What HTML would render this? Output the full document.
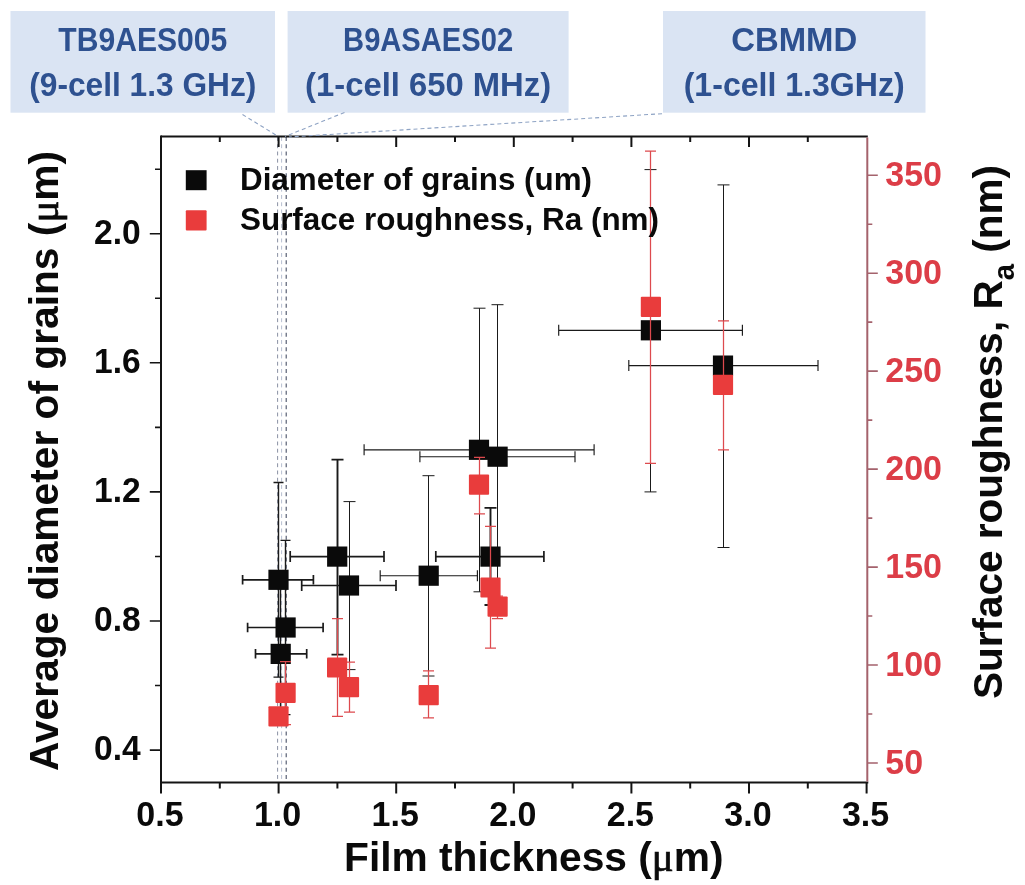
<!DOCTYPE html>
<html lang="en"><head><meta charset="utf-8"><title>Film thickness chart</title>
<style>html,body{margin:0;padding:0;background:#fff}svg{display:block}text{font-family:"Liberation Sans",sans-serif;font-weight:bold}.hd{fill:#2e5190;font-size:32.5px;text-anchor:middle}.tk{font-size:35.2px;fill:#0a0a0a}.rt{font-size:35.2px;fill:#dc3d47}.ti{font-size:40px;fill:#0a0a0a}.lg{font-size:31px;fill:#0a0a0a}.mu{font-weight:normal;font-family:"Liberation Serif",serif;stroke:#0a0a0a;stroke-width:0.7px}</style></head><body>
<svg width="1025" height="885" viewBox="0 0 1025 885">
<rect width="1025" height="885" fill="#fff"/>
<rect x="10.5" y="11" width="264.5" height="101.7" fill="#dae4f3"/>
<text class="hd" x="142.8" y="51.0" textLength="169" lengthAdjust="spacingAndGlyphs">TB9AES005</text>
<text class="hd" x="142.8" y="96.0" textLength="227" lengthAdjust="spacingAndGlyphs">(9-cell 1.3 GHz)</text>
<rect x="287.6" y="11" width="281.0" height="101.7" fill="#dae4f3"/>
<text class="hd" x="428.1" y="51.0" textLength="170" lengthAdjust="spacingAndGlyphs">B9ASAES02</text>
<text class="hd" x="428.1" y="96.0" textLength="246" lengthAdjust="spacingAndGlyphs">(1-cell 650 MHz)</text>
<rect x="663.0" y="11" width="262.5" height="101.7" fill="#dae4f3"/>
<text class="hd" x="794.2" y="51.0" textLength="126" lengthAdjust="spacingAndGlyphs">CBMMD</text>
<text class="hd" x="794.2" y="96.0" textLength="221" lengthAdjust="spacingAndGlyphs">(1-cell 1.3GHz)</text>
<g stroke-dasharray="3.9 3.35" fill="none">
<path d="M277.6 137V782" stroke="#7d8598" stroke-width="0.9"/>
<path d="M281.6 137V782" stroke="#a4afc4" stroke-width="0.8"/>
<path d="M286.2 137V782" stroke="#4a5268" stroke-width="1.1"/>
</g>
<g stroke="#1a1a1a" stroke-width="1.3" fill="none">
<path stroke-width="1.7" d="M242.6 579.8H313.4M242.6 575.0v9.5M313.4 575.0v9.5"/>
<path stroke-width="1.4" d="M278.5 482.5V677.1M273.5 482.5h10M273.5 677.1h10"/>
<path stroke-width="1.7" d="M247.6 627.5H323.1M247.6 622.8v9.5M323.1 622.8v9.5"/>
<path stroke-width="1.4" d="M285.5 540.4V714.6M280.5 540.4h10M280.5 714.6h10"/>
<path stroke-width="1.7" d="M255.5 653.9H306.7M255.5 649.1v9.5M306.7 649.1v9.5"/>
<path stroke-width="1.4" d="M280.5 584.0V723.0M275.5 584.0h10M275.5 723.0h10"/>
<path stroke-width="1.7" d="M290.2 556.6H384.0M290.2 551.1v11M384.0 551.1v11"/>
<path stroke-width="1.9" d="M337.5 459.6V654.6M331.5 459.6h12M331.5 654.6h12"/>
<path stroke-width="1.7" d="M301.7 585.5H396.0M301.7 580.0v11M396.0 580.0v11"/>
<path stroke-width="1.0" d="M349.5 501.6V669.6M343.5 501.6h12M343.5 669.6h12"/>
<path stroke-width="1.15" d="M380.2 575.7H477.4M380.2 570.2v11M477.4 570.2v11"/>
<path stroke-width="1.0" d="M428.5 475.7V676.0M422.5 475.7h12M422.5 676.0h12"/>
<path stroke-width="1.7" d="M435.8 556.6H543.9M435.8 551.1v11M543.9 551.1v11"/>
<path stroke-width="1.9" d="M490.5 507.9V605.0M484.5 507.9h12M484.5 605.0h12"/>
<path stroke-width="1.15" d="M364.1 449.8H594.1M364.1 444.3v11M594.1 444.3v11"/>
<path stroke-width="1.0" d="M479.5 308.2V591.8M473.5 308.2h12M473.5 591.8h12"/>
<path stroke-width="1.15" d="M419.9 456.7H575.0M419.9 451.2v11M575.0 451.2v11"/>
<path stroke-width="1.0" d="M497.5 304.7V608.7M491.5 304.7h12M491.5 608.7h12"/>
<path stroke-width="1.15" d="M558.7 330.3H742.4M558.7 324.8v11M742.4 324.8v11"/>
<path stroke-width="1.0" d="M650.5 169.6V491.9M644.5 169.6h12M644.5 491.9h12"/>
<path stroke-width="1.15" d="M628.8 365.6H818.0M628.8 360.1v11M818.0 360.1v11"/>
<path stroke-width="1.0" d="M723.5 184.9V547.5M717.5 184.9h12M717.5 547.5h12"/>
</g>
<g fill="#0a0a0a">
<rect x="268.4" y="569.7" width="20.2" height="20.2"/>
<rect x="275.5" y="617.4" width="20.2" height="20.2"/>
<rect x="270.6" y="643.8" width="20.2" height="20.2"/>
<rect x="327.1" y="546.5" width="20.2" height="20.2"/>
<rect x="338.9" y="575.4" width="20.2" height="20.2"/>
<rect x="418.6" y="565.6" width="20.2" height="20.2"/>
<rect x="480.4" y="546.5" width="20.2" height="20.2"/>
<rect x="468.9" y="439.7" width="20.2" height="20.2"/>
<rect x="487.5" y="446.6" width="20.2" height="20.2"/>
<rect x="640.8" y="320.2" width="20.2" height="20.2"/>
<rect x="712.9" y="355.5" width="20.2" height="20.2"/>
</g>
<g stroke="#dd4a4e" stroke-width="1.25" fill="none">
<path d="M278.5 708.0V725.0M273.0 708.0h11M273.0 725.0h11"/>
<path d="M285.5 661.7V724.6M280.0 661.7h11M280.0 724.6h11"/>
<path d="M337.5 618.5V716.4M332.0 618.5h11M332.0 716.4h11"/>
<path d="M349.5 662.0V712.1M344.0 662.0h11M344.0 712.1h11"/>
<path d="M428.5 670.9V717.9M423.0 670.9h11M423.0 717.9h11"/>
<path d="M479.5 457.4V513.9M474.0 457.4h11M474.0 513.9h11"/>
<path d="M490.5 526.4V648.0M485.0 526.4h11M485.0 648.0h11"/>
<path d="M497.5 596.0V618.5M492.0 596.0h11M492.0 618.5h11"/>
<path d="M650.5 151.0V463.4M645.0 151.0h11M645.0 463.4h11"/>
<path d="M723.5 320.8V449.8M718.0 320.8h11M718.0 449.8h11"/>
</g>
<g fill="#e93c3c">
<rect x="268.4" y="706.3" width="20.2" height="20.2" rx="1"/>
<rect x="275.5" y="682.8" width="20.2" height="20.2" rx="1"/>
<rect x="327.0" y="657.4" width="20.2" height="20.2" rx="1"/>
<rect x="338.9" y="677.1" width="20.2" height="20.2" rx="1"/>
<rect x="418.6" y="685.0" width="20.2" height="20.2" rx="1"/>
<rect x="468.9" y="474.5" width="20.2" height="20.2" rx="1"/>
<rect x="480.4" y="577.4" width="20.2" height="20.2" rx="1"/>
<rect x="487.5" y="596.5" width="20.2" height="20.2" rx="1"/>
<rect x="640.8" y="296.7" width="20.2" height="20.2" rx="1"/>
<rect x="712.9" y="374.8" width="20.2" height="20.2" rx="1"/>
</g>
<g stroke="#141414" stroke-width="2" fill="none" stroke-linecap="butt">
<path d="M161.0 135.5V783.5"/>
<path d="M161.0 136.5H867.8"/>
<path d="M161.0 782.5H868.3"/>
<path d="M161.0 782.5v11M219.8 782.5v6M219.8 136.5v5.5M278.6 782.5v11M278.6 136.5v10.5M337.4 782.5v6M337.4 136.5v5.5M396.2 782.5v11M396.2 136.5v10.5M455.0 782.5v6M455.0 136.5v5.5M513.8 782.5v11M513.8 136.5v10.5M572.6 782.5v6M572.6 136.5v5.5M631.4 782.5v11M631.4 136.5v10.5M690.2 782.5v6M690.2 136.5v5.5M749.0 782.5v11M749.0 136.5v10.5M807.8 782.5v6M807.8 136.5v5.5M866.6 782.5v11"/>
<path d="M161.0 750.1h-11.2M161.0 685.5h-6M161.0 621.0h-11.2M161.0 556.5h-6M161.0 491.9h-11.2M161.0 427.4h-6M161.0 362.8h-11.2M161.0 298.3h-6M161.0 233.7h-11.2M161.0 169.2h-6" stroke-width="1.6"/>
</g>
<g stroke="#a4626c" stroke-width="2" fill="none">
<path d="M867.3 137.5V781.5"/>
<path d="M867.3 763.0h10.5M867.3 714.0h5M867.3 665.0h10.5M867.3 616.0h5M867.3 567.1h10.5M867.3 518.1h5M867.3 469.1h10.5M867.3 420.1h5M867.3 371.1h10.5M867.3 322.1h5M867.3 273.2h10.5M867.3 224.2h5M867.3 175.2h10.5" stroke-width="1.6"/>
</g>
<text class="tk" x="140.8" y="760.3" text-anchor="end" textLength="46.7" lengthAdjust="spacingAndGlyphs">0.4</text>
<text class="tk" x="140.8" y="631.2" text-anchor="end" textLength="46.7" lengthAdjust="spacingAndGlyphs">0.8</text>
<text class="tk" x="140.8" y="502.1" text-anchor="end" textLength="46.7" lengthAdjust="spacingAndGlyphs">1.2</text>
<text class="tk" x="140.8" y="373.0" text-anchor="end" textLength="46.7" lengthAdjust="spacingAndGlyphs">1.6</text>
<text class="tk" x="140.8" y="243.9" text-anchor="end" textLength="46.7" lengthAdjust="spacingAndGlyphs">2.0</text>
<text class="tk" x="160.0" y="826.3" text-anchor="middle" textLength="47.3" lengthAdjust="spacingAndGlyphs">0.5</text>
<text class="tk" x="277.6" y="826.3" text-anchor="middle" textLength="47.3" lengthAdjust="spacingAndGlyphs">1.0</text>
<text class="tk" x="395.2" y="826.3" text-anchor="middle" textLength="47.3" lengthAdjust="spacingAndGlyphs">1.5</text>
<text class="tk" x="512.8" y="826.3" text-anchor="middle" textLength="47.3" lengthAdjust="spacingAndGlyphs">2.0</text>
<text class="tk" x="630.4" y="826.3" text-anchor="middle" textLength="47.3" lengthAdjust="spacingAndGlyphs">2.5</text>
<text class="tk" x="748.0" y="826.3" text-anchor="middle" textLength="47.3" lengthAdjust="spacingAndGlyphs">3.0</text>
<text class="tk" x="865.6" y="826.3" text-anchor="middle" textLength="47.3" lengthAdjust="spacingAndGlyphs">3.5</text>
<text class="rt" x="885.3" y="773.7" textLength="37.8" lengthAdjust="spacingAndGlyphs">50</text>
<text class="rt" x="885.3" y="675.7" textLength="56.7" lengthAdjust="spacingAndGlyphs">100</text>
<text class="rt" x="885.3" y="577.8" textLength="56.7" lengthAdjust="spacingAndGlyphs">150</text>
<text class="rt" x="885.3" y="479.8" textLength="56.7" lengthAdjust="spacingAndGlyphs">200</text>
<text class="rt" x="885.3" y="381.8" textLength="56.7" lengthAdjust="spacingAndGlyphs">250</text>
<text class="rt" x="885.3" y="283.9" textLength="56.7" lengthAdjust="spacingAndGlyphs">300</text>
<text class="rt" x="885.3" y="185.9" textLength="56.7" lengthAdjust="spacingAndGlyphs">350</text>
<text class="ti" x="344" y="871.1" textLength="379.5" lengthAdjust="spacingAndGlyphs">Film thickness (<tspan class="mu">μ</tspan>m)</text>
<text class="ti" transform="translate(58.4 771.0) rotate(-90)" textLength="620" lengthAdjust="spacingAndGlyphs">Average diameter of grains (<tspan class="mu">μ</tspan>m)</text>
<text class="ti" transform="translate(1002.2 699) rotate(-90)" textLength="534" lengthAdjust="spacingAndGlyphs">Surface roughness, R<tspan font-size="29" dy="12">a</tspan><tspan dy="-12"> (nm)</tspan></text>
<rect x="185.8" y="170.2" width="20.8" height="20" fill="#0a0a0a"/>
<rect x="185.8" y="210.2" width="20.8" height="20.2" rx="1" fill="#e93c3c"/>
<text class="lg" x="240" y="190" textLength="352" lengthAdjust="spacingAndGlyphs">Diameter of grains (um)</text>
<text class="lg" x="240" y="230" textLength="419" lengthAdjust="spacingAndGlyphs">Surface roughness, Ra (nm)</text>
<g stroke="#8ea3c4" stroke-width="1.1" stroke-dasharray="4 3" fill="none">
<path d="M242.5 114.5L277.5 136"/><path d="M344.5 112.5L285 136.5"/><path d="M662 113.7L289 137"/>
</g>
</svg></body></html>
